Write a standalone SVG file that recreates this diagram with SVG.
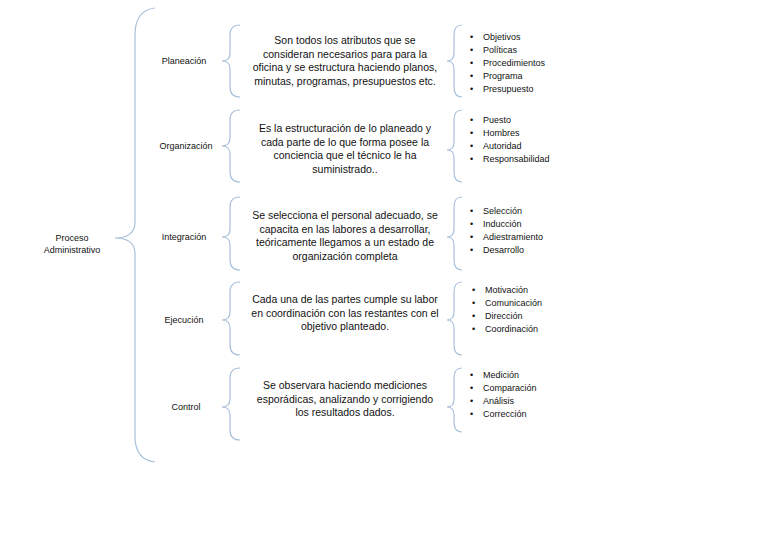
<svg xmlns="http://www.w3.org/2000/svg" width="768" height="543" viewBox="0 0 768 543">
<style>
.b{fill:none;stroke:#a9c0da;stroke-width:1.2}
.l{font-family:"Liberation Sans",Arial,sans-serif;font-size:9px;fill:#111;text-anchor:middle}
.d{font-family:"Liberation Sans",Arial,sans-serif;font-size:10.5px;fill:#111;text-anchor:middle}
.i{font-family:"Liberation Sans",Arial,sans-serif;font-size:9px;fill:#111}
</style>
<rect width="768" height="543" fill="#fff"/>
<g id="connectors">
<path class="b" d="M155 8 Q135 10 135 35 L135 222 Q135 238 115 238 Q135 238 135 254 L135 436 Q135 460 155 462"/>
<path class="b" d="M240 25 Q230 25 230 35 L230 53 Q230 61 222 61 Q230 61 230 69 L230 87 Q230 97 240 97"/>
<path class="b" d="M240 110 Q230 110 230 120 L230 138 Q230 146 222 146 Q230 146 230 154 L230 172 Q230 182 240 182"/>
<path class="b" d="M240 197 Q230 197 230 207 L230 229 Q230 237 222 237 Q230 237 230 245 L230 260 Q230 270 240 270"/>
<path class="b" d="M240 282 Q230 282 230 292 L230 312 Q230 320 222 320 Q230 320 230 328 L230 345 Q230 355 240 355"/>
<path class="b" d="M240 368 Q230 368 230 378 L230 399 Q230 407 222 407 Q230 407 230 415 L230 430 Q230 440 240 440"/>
<path class="b" d="M462 25 Q454 25 454 35 L454 53 Q454 61 447 61 Q454 61 454 69 L454 87 Q454 97 462 97"/>
<path class="b" d="M462 110 Q454 110 454 120 L454 142 Q454 150 447 150 Q454 150 454 158 L454 172 Q454 182 462 182"/>
<path class="b" d="M462 197 Q454 197 454 207 L454 229 Q454 237 447 237 Q454 237 454 245 L454 260 Q454 270 462 270"/>
<path class="b" d="M462 282 Q454 282 454 292 L454 312 Q454 320 447 320 Q454 320 454 328 L454 345 Q454 355 462 355"/>
<path class="b" d="M462 368 Q454 368 454 378 L454 399 Q454 407 447 407 Q454 407 454 415 L454 422 Q454 432 462 432"/>
</g>
<g id="root"><text class="l" x="72" y="241">Proceso</text><text class="l" x="72" y="253">Administrativo</text></g>
<g id="planeacion">
<text class="l" x="184" y="64">Planeación</text>
<text class="d" x="345" y="44">Son todos los atributos que se</text>
<text class="d" x="345" y="57.5">consideran necesarios para para la</text>
<text class="d" x="345" y="71">oficina y se estructura haciendo planos,</text>
<text class="d" x="345" y="84.5">minutas, programas, presupuestos etc.</text>
<g class="i"><text x="470" y="40">•</text><text x="483" y="40">Objetivos</text><text x="470" y="53">•</text><text x="483" y="53">Políticas</text><text x="470" y="66">•</text><text x="483" y="66">Procedimientos</text><text x="470" y="79">•</text><text x="483" y="79">Programa</text><text x="470" y="92">•</text><text x="483" y="92">Presupuesto</text></g>
</g>
<g id="organizacion">
<text class="l" x="186" y="149">Organización</text>
<text class="d" x="345" y="132">Es la estructuración de lo planeado y</text>
<text class="d" x="345" y="145.5">cada parte de lo que forma posee la</text>
<text class="d" x="345" y="159">conciencia que el técnico le ha</text>
<text class="d" x="345" y="172.5">suministrado..</text>
<g class="i"><text x="470" y="123">•</text><text x="483" y="123">Puesto</text><text x="470" y="136">•</text><text x="483" y="136">Hombres</text><text x="470" y="149">•</text><text x="483" y="149">Autoridad</text><text x="470" y="162">•</text><text x="483" y="162">Responsabilidad</text></g>
</g>
<g id="integracion">
<text class="l" x="184" y="240">Integración</text>
<text class="d" x="345" y="219">Se selecciona el personal adecuado, se</text>
<text class="d" x="345" y="232.5">capacita en las labores a desarrollar,</text>
<text class="d" x="345" y="246">teóricamente llegamos a un estado de</text>
<text class="d" x="345" y="259.5">organización completa</text>
<g class="i"><text x="470" y="214">•</text><text x="483" y="214">Selección</text><text x="470" y="227">•</text><text x="483" y="227">Inducción</text><text x="470" y="240">•</text><text x="483" y="240">Adiestramiento</text><text x="470" y="253">•</text><text x="483" y="253">Desarrollo</text></g>
</g>
<g id="ejecucion">
<text class="l" x="184" y="323">Ejecución</text>
<text class="d" x="345" y="303">Cada una de las partes cumple su labor</text>
<text class="d" x="345" y="316.5">en coordinación con las restantes con el</text>
<text class="d" x="345" y="330">objetivo planteado.</text>
<g class="i"><text x="472" y="293">•</text><text x="485" y="293">Motivación</text><text x="472" y="306">•</text><text x="485" y="306">Comunicación</text><text x="472" y="319">•</text><text x="485" y="319">Dirección</text><text x="472" y="332">•</text><text x="485" y="332">Coordinación</text></g>
</g>
<g id="control">
<text class="l" x="186" y="410">Control</text>
<text class="d" x="345" y="389">Se observara haciendo mediciones</text>
<text class="d" x="345" y="402.5">esporádicas, analizando y corrigiendo</text>
<text class="d" x="345" y="416">los resultados dados.</text>
<g class="i"><text x="470" y="378">•</text><text x="483" y="378">Medición</text><text x="470" y="391">•</text><text x="483" y="391">Comparación</text><text x="470" y="404">•</text><text x="483" y="404">Análisis</text><text x="470" y="417">•</text><text x="483" y="417">Corrección</text></g>
</g>
</svg>
